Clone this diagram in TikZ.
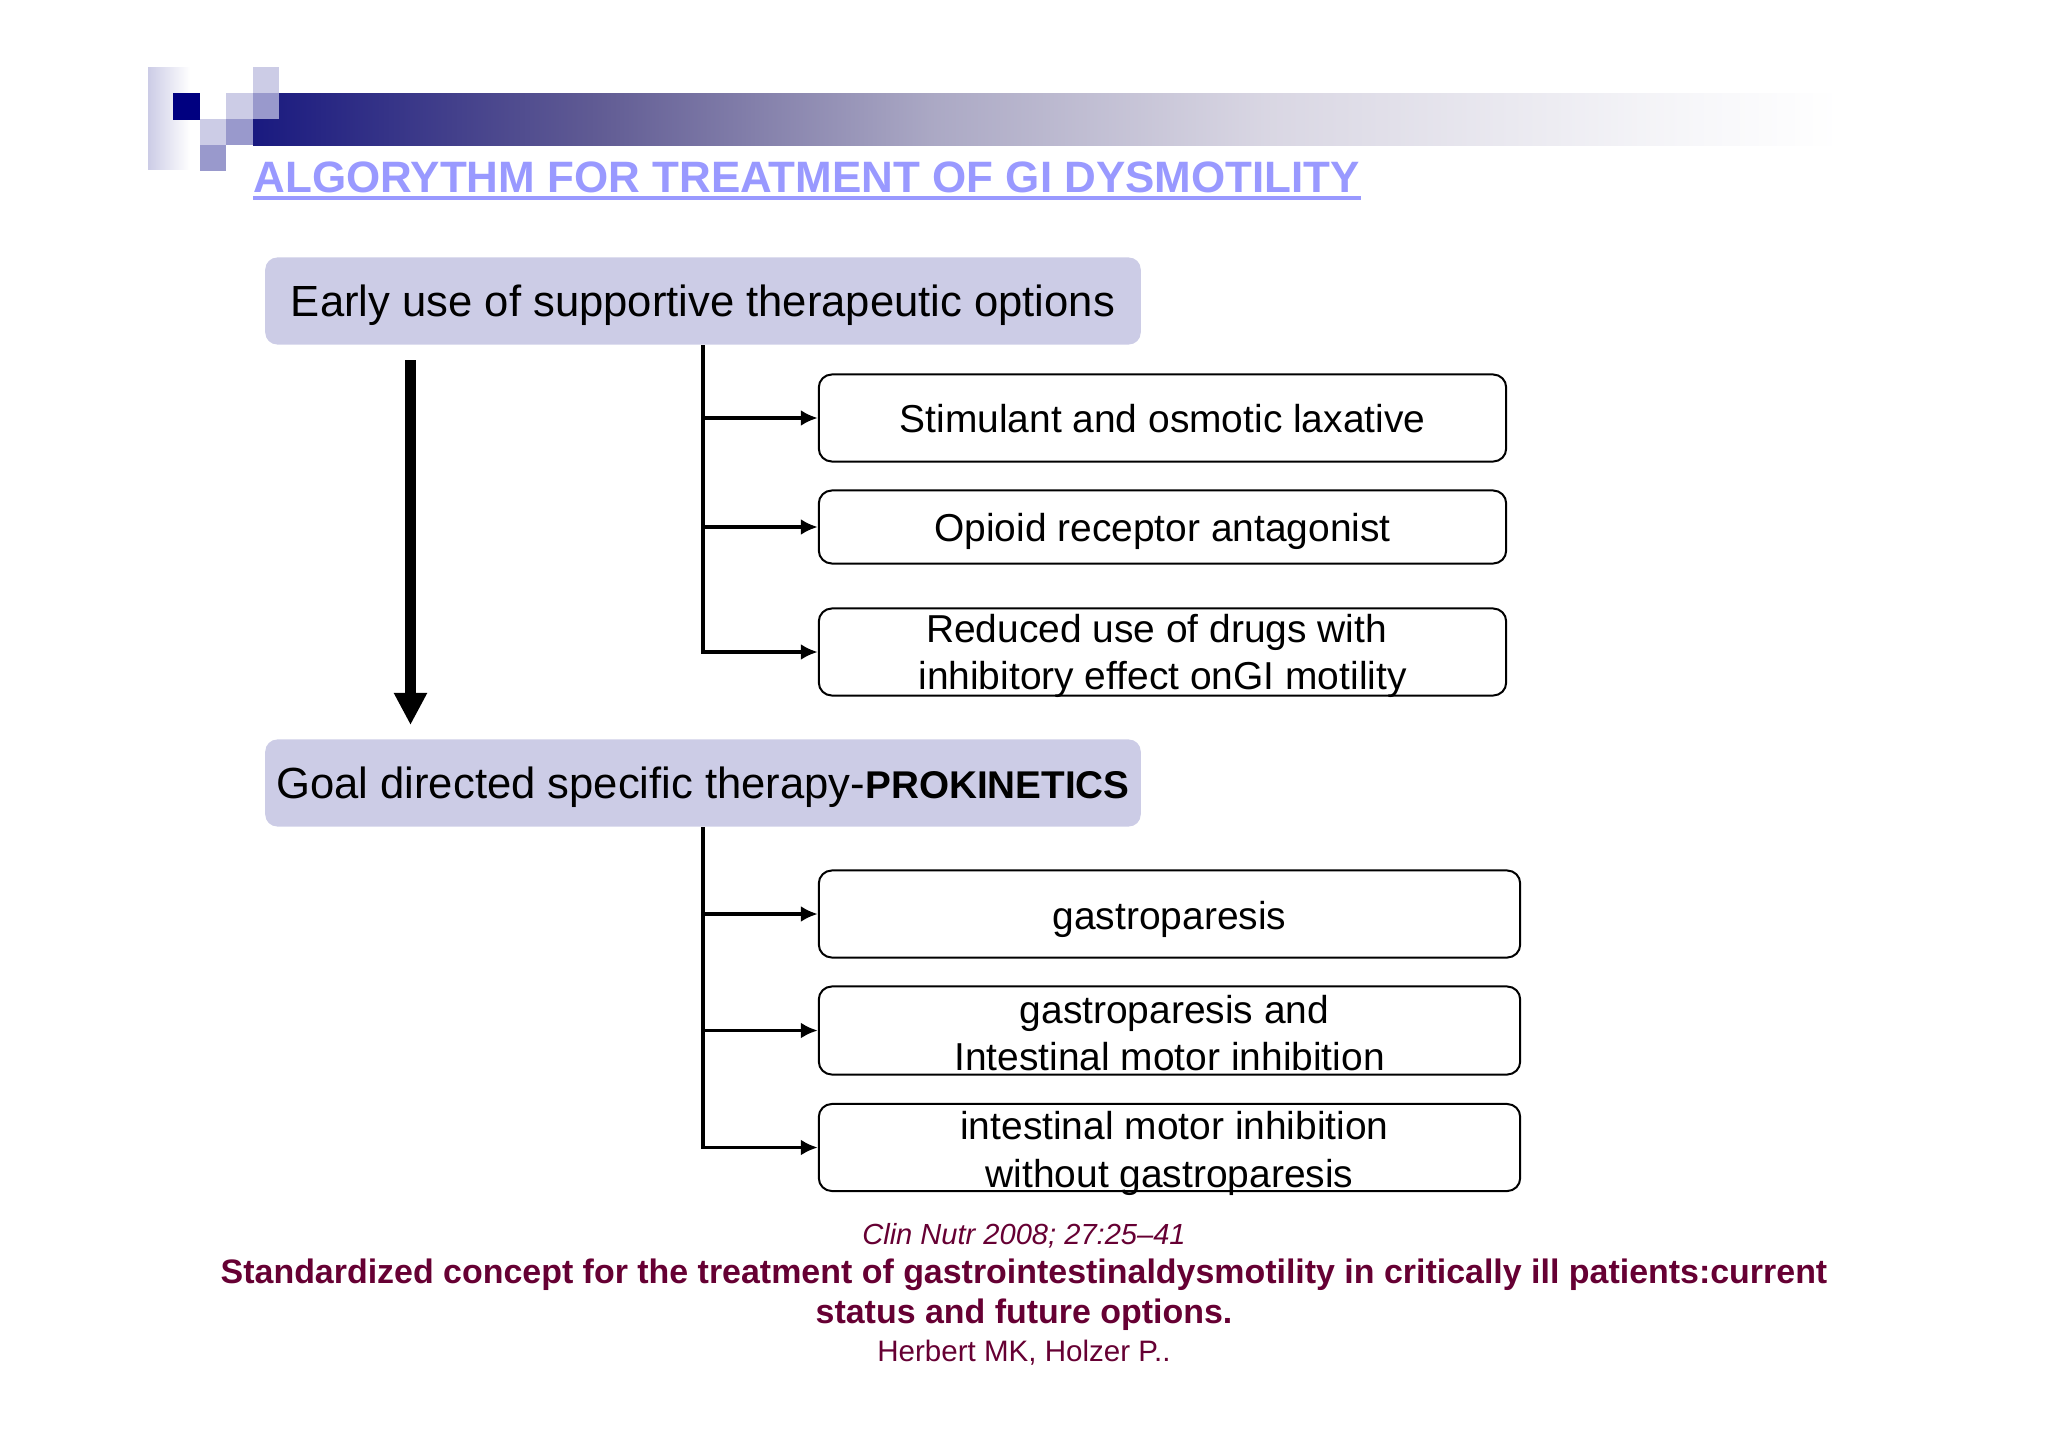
\documentclass[tikz,border=0pt]{standalone}
\usepackage{fontspec}
\setmainfont{Liberation Sans}
\usetikzlibrary{arrows.meta}
\definecolor{darkblue}{HTML}{000080}
\definecolor{lightblue}{HTML}{CCCCE6}
\definecolor{midblue}{HTML}{9999CC}
\definecolor{titleblue}{HTML}{9999FF}
\definecolor{wine}{HTML}{660033}
\pgfdeclarehorizontalshading{barfade}{100bp}{rgb(0bp)=(.10,.10,.50); rgb(25bp)=(.10,.10,.50); rgb(35.9bp)=(.38,.36,.58); rgb(46.4bp)=(.67,.66,.77); rgb(56.9bp)=(.85,.84,.89); rgb(70.6bp)=(.97,.97,.98); rgb(75bp)=(1,1,1); rgb(100bp)=(1,1,1)}
\newcommand{\headfont}{\fontsize{12.4}{14}\selectfont}
\newcommand{\boxfont}{\fontsize{11.07}{13.5}\selectfont}
\tikzset{
    headbox/.style={fill=lightblue,rounded corners=0.12cm,inner sep=0pt,minimum width=8.75cm,minimum height=0.87cm,text depth=0pt,font=\headfont},
    itembox/.style={draw,line width=0.02cm,rounded corners=0.13cm,inner sep=0pt,minimum width=6.87cm,align=center,text depth=0pt,font=\boxfont},
    itemwide/.style={itembox,minimum width=7.01cm},
    branch/.style={line width=0.035cm,-{Latex[length=0.17cm,width=0.16cm]}},
    refline/.style={wine,inner sep=0pt,font=\fontsize{9.65}{10}\selectfont\bfseries}
}
\begin{document}
\begin{tikzpicture}[x=0.01cm,y=-0.01cm]
    \useasboundingbox (0,0) rectangle (2048,1448);
    %logo e barra
    \shade[shading=barfade] (253,93) rectangle (1840,145);
    \shade[left color=lightblue,right color=white] (148,67) rectangle (190,169);
    \fill[darkblue] (173,93) rectangle (200,120);
    \fill[lightblue] (253,67) rectangle (279,93);
    \fill[midblue] (253,93) rectangle (279,119);
    \fill[lightblue] (226,93) rectangle (253,119);
    \fill[lightblue] (200,119) rectangle (226,145);
    \fill[midblue] (226,119) rectangle (253,145);
    \fill[midblue] (200,145) rectangle (226,171);
    %titolo
    \node[anchor=base west,inner sep=0pt,titleblue,font=\fontsize{12.5}{14}\selectfont\bfseries] (title) at (253,192) {ALGORYTHM FOR TREATMENT OF GI DYSMOTILITY};
    \draw[titleblue,line width=0.04cm] ([yshift=-0.06cm]title.base west) -- ([yshift=-0.06cm]title.base east);
    %riquadri principali
    \node[headbox] (early) at (703,301) {Early use of supportive therapeutic options};
    \node[headbox] (goal) at (703,783) {Goal directed specific therapy-{\fontsize{11}{14}\selectfont\bfseries PROKINETICS}};
    %freccia grande
    \coordinate (bigstart) at (410.5,360);
    \coordinate (bigend) at (410.5,725);
    \draw[line width=0.11cm,-{Triangle[length=0.32cm,width=0.31cm]}] (bigstart) -- (bigend);
    %primo gruppo
    \node[itembox,minimum height=0.87cm] (stimulant) at (1162.5,418) {Stimulant and osmotic laxative};
    \node[itembox,minimum height=0.73cm] (opioid) at (1162.5,527) {Opioid receptor antagonist};
    \node[itembox,minimum height=0.87cm] (reduced) at (1162.5,652) {Reduced use of drugs with\hspace*{0.12cm}\\inhibitory effect onGI motility};
    \draw[branch] (early.south) |- (stimulant.west);
    \draw[branch] (early.south) |- (opioid.west);
    \draw[branch] (early.south) |- (reduced.west);
    %secondo gruppo
    \node[itemwide,minimum height=0.87cm] (gastro) at (1169.5,914) {\rule{0pt}{0.31cm}gastroparesis};
    \node[itemwide,minimum height=0.88cm] (both) at (1169.5,1030.5) {\rule{0pt}{0.33cm}\hspace*{0.1cm}gastroparesis and\\Intestinal motor inhibition};
    \node[itemwide,minimum height=0.87cm] (intestinal) at (1169.5,1147.5) {\rule{0pt}{0.32cm}\hspace*{0.1cm}intestinal motor inhibition\\without gastroparesis};
    \draw[branch] (goal.south) |- (gastro.west);
    \draw[branch] (goal.south) |- (both.west);
    \draw[branch] (goal.south) |- (intestinal.west);
    %riferimento
    \node[refline,font=\fontsize{8.27}{10}\selectfont\itshape] (journal) at (1024,1236) {Clin Nutr 2008; 27:25–41};
    \node[refline] (paper) at (1024,1275) {Standardized concept for the treatment of gastrointestinaldysmotility in critically ill patients:current};
    \node[refline] (status) at (1024,1315) {status and future options.};
    \node[refline,font=\fontsize{8.4}{10}\selectfont] (authors) at (1024,1353) {Herbert MK, Holzer P..};
\end{tikzpicture}
\end{document}
